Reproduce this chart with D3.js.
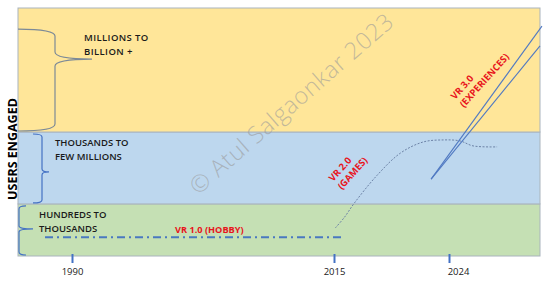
<!DOCTYPE html>
<html>
<head>
<meta charset="utf-8">
<script src="https://cdn.jsdelivr.net/npm/d3@7/dist/d3.min.js"></script>
<style>
  body { margin: 0; background: #fff; }
  svg { display: block; font-family: "Open Sans", "DejaVu Sans", sans-serif; }
</style>
</head>
<body>
<script>
// x is the year, y is a rough "users engaged" level from 0 to 100
let yearStops = [1985, 1990, 2015, 2024, 2031];
let tickYears = [1990, 2015, 2024];

// bands (bottom to top)
let bandLabels = [["HUNDREDS TO", "THOUSANDS"], ["THOUSANDS TO", "FEW MILLIONS"], ["MILLIONS TO", "BILLION +"]];
let bandFrom = [0, 21, 50];
let bandTo = [21, 50, 100];
let bandColors = ["#c5e0b4", "#bdd7ee", "#ffe699"];

// braces: top, point, bottom (level units)
let braceTop = [20.2, 49.2, 91.5];
let braceMid = [10.9, 33.9, 79.4];
let braceBottom = [0.4, 21.4, 50.4];

// VR 1.0 (hobby) flat line
let vr1Years = [1987.5, 2015.7];
let vr1Level = [7.6, 7.6];

// VR 2.0 (games) curve
let vr2Years = [2015.1, 2015.8, 2016.6, 2018.4, 2020.2, 2022.0, 2023.6, 2024.85, 2025.85, 2027.7];
let vr2Level = [11.3, 15.5, 21.4, 32.7, 41.5, 46.0, 46.8, 46.4, 44.4, 44.0];

// VR 3.0 (experiences) two lines
let vr3aYears = [2022.6, 2031.15];
let vr3aLevel = [31, 92.7];
let vr3bYears = [2022.6, 2031];
let vr3bLevel = [31, 84.7];

let width = 550;
let height = 282;
let margin = {top: 8, right: 10, bottom: 26, left: 18};

let x = d3.scaleLinear()
          .domain(yearStops)
          .range([margin.left, 72, 334, 449, width - margin.right]);

let y = d3.scaleLinear()
          .domain([0, 100])
          .range([height - margin.bottom, margin.top]);

let svg = d3.select("body")
            .append("svg")
            .attr("width", width)
            .attr("height", height);

// bands
bandFrom.forEach(function(b, i) {
  svg.append("rect")
     .attr("x", x(yearStops[0]))
     .attr("y", y(bandTo[i]))
     .attr("width", x(yearStops[yearStops.length - 1]) - x(yearStops[0]))
     .attr("height", y(bandFrom[i]) - y(bandTo[i]))
     .attr("fill", bandColors[i])
     .attr("stroke", "#a9b4bd")
     .attr("stroke-width", 1);
});

// watermark
svg.append("text")
   .attr("transform", "translate(291,103) rotate(-41)")
   .attr("text-anchor", "middle")
   .attr("dominant-baseline", "central")
   .style("font-size", "23.5px")
   .style("font-weight", 300)
   .style("letter-spacing", "0.6px")
   .attr("fill", "#9a9a9a")
   .attr("fill-opacity", 0.6)
   .text("\u00a9 Atul Salgaonkar 2023");

// braces "}" shape: ends at x0, vertical at xv, point at xp
function brace(x0, xv, xp, yt, ym, yb, r) {
  return `M${x0},${yt} Q${xv},${yt} ${xv},${yt + r} L${xv},${ym - r} Q${xv},${ym} ${xp},${ym}` +
         ` Q${xv},${ym} ${xv},${ym + r} L${xv},${yb - r} Q${xv},${yb} ${x0},${yb}`;
}
let braceX = [[26, 19, 33], [33, 42, 49], [18, 55, 92]];
let braceR = [3, 3, 7];
let braceColors = ["#4472c4", "#4472c4", "#7d8a97"];
braceTop.forEach(function(t, i) {
  svg.append("path")
     .attr("d", brace(braceX[i][0], braceX[i][1], braceX[i][2], y(braceTop[i]), y(braceMid[i]), y(braceBottom[i]), braceR[i]))
     .attr("fill", "none")
     .attr("stroke", braceColors[i])
     .attr("stroke-width", 1.2);
});

// band labels
let labelPos = [[39, 214], [55, 142], [84, 37]];
bandLabels.forEach(function(lines, i) {
  let t = svg.append("text")
             .attr("x", labelPos[i][0])
             .attr("y", labelPos[i][1])
             .attr("dominant-baseline", "central")
             .style("font-size", "9.5px")
             .style("font-weight", 600)
             .style("letter-spacing", i === 2 ? "0.4px" : "0px")
             .attr("fill", "#1a1a1a");
  lines.forEach(function(l, j) {
    t.append("tspan").attr("x", labelPos[i][0]).attr("dy", j === 0 ? 0 : 14).text(l);
  });
});

// y axis title
svg.append("text")
   .attr("transform", "translate(12,149) rotate(-90)")
   .attr("text-anchor", "middle")
   .attr("dominant-baseline", "central")
   .style("font-size", "12.5px")
   .style("font-weight", 700)
   .attr("fill", "#000")
   .text("USERS ENGAGED");

let line = d3.line()
             .x(function(d) { return x(d[0]); })
             .y(function(d) { return y(d[1]); });

// VR 1.0
svg.append("path")
   .datum(d3.zip(vr1Years, vr1Level))
   .attr("d", line)
   .attr("fill", "none")
   .attr("stroke", "#4a78c0")
   .attr("stroke-width", 2)
   .attr("stroke-dasharray", "8,4,2,4");

svg.append("text")
   .attr("x", 175)
   .attr("y", 229)
   .attr("dominant-baseline", "central")
   .style("font-size", "9.2px")
   .style("font-weight", 700)
   .attr("fill", "#e8141c")
   .text("VR 1.0 (HOBBY)");

// VR 2.0
svg.append("path")
   .datum(d3.zip(vr2Years, vr2Level))
   .attr("d", line.curve(d3.curveCatmullRom))
   .attr("fill", "none")
   .attr("stroke", "#6c82a6")
   .attr("stroke-width", 1)
   .attr("stroke-dasharray", "2,1.5");

line.curve(d3.curveLinear);

// VR 3.0
[[vr3aYears, vr3aLevel], [vr3bYears, vr3bLevel]].forEach(function(s) {
  svg.append("path")
     .datum(d3.zip(s[0], s[1]))
     .attr("d", line)
     .attr("fill", "none")
     .attr("stroke", "#5079c2")
     .attr("stroke-width", 1.1);
});

// rotated red labels
function redLabel(px, py, angle, lines) {
  let t = svg.append("text")
             .attr("transform", `translate(${px},${py}) rotate(${angle})`)
             .style("font-size", "9.5px")
             .style("font-weight", 700)
             .attr("fill", "#e8141c");
  lines.forEach(function(l, j) {
    t.append("tspan").attr("x", 0).attr("dy", j === 0 ? 0 : 12).text(l);
  });
}
redLabel(333, 182, -48, ["VR 2.0", "(GAMES)"]);
redLabel(455, 100, -48, ["VR 3.0", "(EXPERIENCES)"]);

// x ticks
let xAxis = svg.append("g")
               .attr("transform", `translate(0,${height - margin.bottom - 2})`)
               .call(d3.axisBottom(x).tickValues(tickYears).tickFormat(d3.format("d")).tickSize(9).tickPadding(5));
xAxis.select(".domain").remove();
xAxis.selectAll(".tick line").attr("stroke", "#4472c4").attr("stroke-width", 2);
xAxis.selectAll(".tick text")
     .style("font-size", "9.5px")
     .style("font-family", "\"Open Sans\", sans-serif")
     .attr("fill", "#1a1a1a")
     .attr("dx", function(d) { return d === 2024 ? 9 : 0; });
</script>
</body>
</html>
